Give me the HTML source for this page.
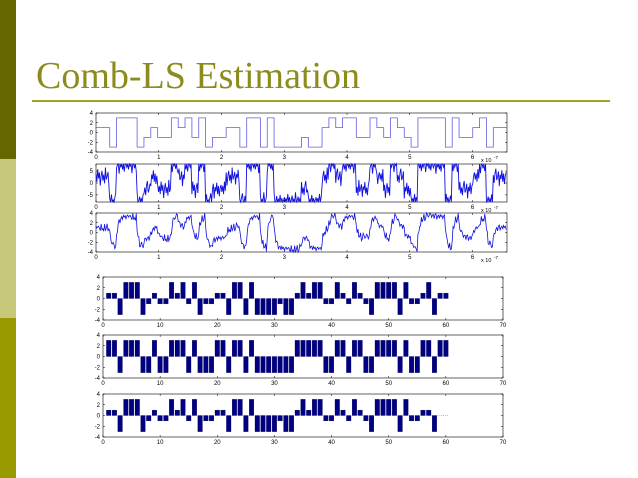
<!DOCTYPE html>
<html><head><meta charset="utf-8"><style>
body{margin:0;width:638px;height:478px;overflow:hidden;background:#fff;font-family:"Liberation Sans",sans-serif}
#t{position:absolute;left:36px;top:54px;font-family:"Liberation Serif",serif;font-size:38px;color:#8c8c1e;white-space:nowrap}
</style></head><body>
<div style="position:absolute;left:0;top:0;width:16px;height:159px;background:#666600"></div>
<div style="position:absolute;left:0;top:159px;width:16px;height:159px;background:#c8c87a"></div>
<div style="position:absolute;left:0;top:318px;width:16px;height:160px;background:#999900"></div>
<div id="t">Comb-LS Estimation</div>
<div style="position:absolute;left:32px;top:100px;width:578px;height:2px;background:#a3a32a"></div>
<svg id="s" width="638" height="478" style="position:absolute;left:0;top:0"></svg>
<script>
const symbolsEst=[1,1,-3,3,3,3,-3,-1,1,-1,-1,3,1,3,-1,3,-3,-1,-1,1,1,-3,3,3,-3,3,-3,-3,-3,-3,-1,-3,-3,1,3,1,3,3,-1,-1,3,1,-1,3,1,-1,-3,3,3,3,3,-3,3,-1,-1,1,3,-3,1,1];
const symbolsHard=[3,3,-3,3,3,3,-3,-3,3,-3,-3,3,3,3,-3,3,-3,-3,-3,3,3,-3,3,3,-3,3,-3,-3,-3,-3,-3,-3,-3,3,3,3,3,3,-3,-3,3,3,-3,3,3,-3,-3,3,3,3,3,-3,3,-3,-3,3,3,-3,3,3];
const symbolsFinal=[1,1,-3,3,3,3,-3,-1,1,-1,-1,3,1,3,-1,3,-3,-1,-1,1,1,-3,3,3,-3,3,-3,-3,-3,-3,-1,-3,-3,1,3,1,3,3,-1,-1,3,1,-1,3,1,-1,-3,3,3,3,3,-3,3,-1,-1,1,1,-3,0,0];
const noise=[0.6,-0.9,1.4,-0.3,0.8,-1.6,0.2,1.1,-0.7,0.4,-1.2,1.7,-0.5,0.1,0.9,-1.4,0.5,-0.2,1.3,-0.8,0.3,-1.1,0.7,1.5,-0.6,-0.1,1.0,-1.7,0.4,-0.4,1.2,-0.9,0.6,-1.3,0.2,0.8,-0.5];
const lineTicks=[0,1,2,3,4,5,6];
const barTicks=[0,10,20,30,40,50,60,70];
const yTicks4=[4,2,0,-2,-4];
const yTicks8=[5,0,-5];
const NS='http://www.w3.org/2000/svg';
const svg=document.getElementById('s');
function mk(t,a,p){const e=document.createElementNS(NS,t);for(const k in a)e.setAttribute(k,a[k]);(p||svg).appendChild(e);return e;}
function frame(name,x0,y0,w,h,xmin,xmax,ymin,ymax,xt,yt,exp){
 const g=mk('g',{});
 
 
 const X=v=>x0+(v-xmin)/(xmax-xmin)*w, Y=v=>y0+(ymax-v)/(ymax-ymin)*h;
 const r=mk('rect',{x:x0,y:y0,width:w,height:h,fill:'none',stroke:'#000','stroke-width':0.6},g);
 
 xt.forEach(v=>{const x=X(v);mk('line',{x1:x,x2:x,y1:y0+h,y2:y0+h-2,stroke:'#000','stroke-width':0.5},g);mk('line',{x1:x,x2:x,y1:y0,y2:y0+2,stroke:'#000','stroke-width':0.5},g);
  const t=mk('text',{x:x,y:y0+h+7,'font-size':6,'text-anchor':'middle',fill:'#000'},g);t.textContent=v;
  });
 yt.forEach(v=>{const y=Y(v);mk('line',{x1:x0,x2:x0+2,y1:y,y2:y,stroke:'#000','stroke-width':0.5},g);mk('line',{x1:x0+w,x2:x0+w-2,y1:y,y2:y,stroke:'#000','stroke-width':0.5},g);
  const t=mk('text',{x:x0-3,y:y+2,'font-size':6,'text-anchor':'end',fill:'#000'},g);t.textContent=v;
  });
 if(exp){const t=mk('text',{x:x0+w-26,y:y0+h+10,'font-size':5.5,fill:'#000'},g);t.textContent='x 10';const s=mk('text',{x:x0+w-13,y:y0+h+7,'font-size':4.5,fill:'#000'},g);s.textContent='-7';
  }
 return {g,X,Y};
}
const XMAX=6.55, SW=XMAX/60;
let f=frame('step-signal-plot',96,113,411,39,0,XMAX,-4,4,lineTicks,yTicks4,true);
let d='';symbolsEst.forEach((v,i)=>{d+=(i?'L':'M')+f.X(i*SW)+','+f.Y(v)+'L'+f.X((i+1)*SW)+','+f.Y(v);});
let p=mk('path',{d:d,fill:'none',stroke:'#6060e0','stroke-width':0.8},f.g);
const SP=8;
f=frame('received-signal-plot',96,164,411,38,0,XMAX,-8,8,lineTicks,yTicks8,true);
d='';let k=0;
symbolsEst.forEach((v,i)=>{for(let j=0;j<SP;j++){let y=v*2.6+noise[k%noise.length]*2.3;k++;y=Math.max(-8,Math.min(8,y));d+=(k>1?'L':'M')+f.X((i+j/SP)*SW)+','+f.Y(y);}});
p=mk('path',{d:d,fill:'none',stroke:'#1010e0','stroke-width':0.9},f.g);
f=frame('filtered-signal-plot',96,213,411,39,0,XMAX,-4,4,lineTicks,yTicks4,true);
d='';k=0;let prev=symbolsEst[0];
symbolsEst.forEach((v,i)=>{for(let j=0;j<SP;j++){prev=prev+(v*1.1-prev)*0.35;let y=prev+noise[(k*3)%noise.length]*0.5;k++;y=Math.max(-4,Math.min(4,y));d+=(k>1?'L':'M')+f.X((i+j/SP)*SW)+','+f.Y(y);}});
p=mk('path',{d:d,fill:'none',stroke:'#1010e0','stroke-width':0.8},f.g);
function bars(name,y0,vals){
 const f=frame(name,103,277+0,400,43,0,70,-4,4,barTicks,yTicks4,false);
 f.g.setAttribute('transform','translate(0,'+y0+')');
 vals.forEach((v,i)=>{const x=i+1;
  if(v===0){const l=mk('line',{x1:f.X(x-0.5),x2:f.X(x+0.5),y1:f.Y(0),y2:f.Y(0),stroke:'#888','stroke-width':0.6,'stroke-dasharray':'1,1'},f.g);return;}
  const r=mk('rect',{x:f.X(x-0.4),width:f.X(0.8)-f.X(0),y:Math.min(f.Y(v),f.Y(0)),height:Math.abs(f.Y(v)-f.Y(0)),fill:'#000080',stroke:'#000060','stroke-width':0.3},f.g);
  });
}
bars('estimated-symbols-bar-plot',0,symbolsEst);
bars('hard-decision-bar-plot',58,symbolsHard);
bars('final-symbols-bar-plot',117,symbolsFinal);
</script>
</body></html>
